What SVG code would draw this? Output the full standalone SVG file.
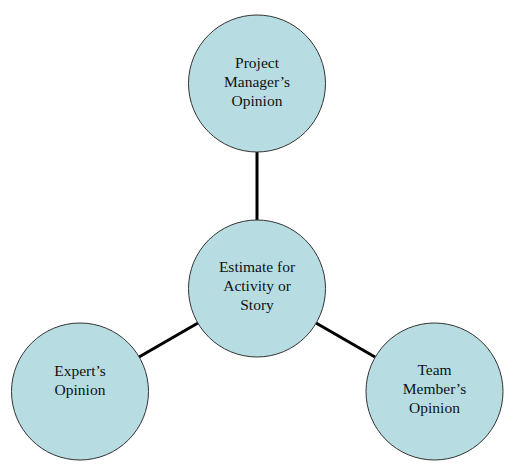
<svg xmlns="http://www.w3.org/2000/svg" width="520" height="468" viewBox="0 0 520 468">
<style>
.node circle{fill:#b7dde3;stroke:#333;stroke-width:1}
.node text{font-family:'Liberation Serif','Times New Roman',serif;font-size:15.5px;fill:#111;text-anchor:middle}
.edge{stroke:#000;stroke-width:3;fill:none}
</style>
<rect width="520" height="468" fill="#fff"/>
<g id="connectors">
<line class="edge" x1="257" y1="151" x2="257" y2="220"/>
<line class="edge" x1="139" y1="357" x2="198" y2="323"/>
<line class="edge" x1="316" y1="323" x2="375" y2="357"/>
</g>
<g id="pm" class="node" font-family="Liberation Serif, serif">
<circle cx="257" cy="83.5" r="68.5"/>
<text x="257" y="68">Project</text>
<text x="257" y="87">Manager’s</text>
<text x="257" y="106">Opinion</text>
</g>
<g id="estimate" class="node" font-family="Liberation Serif, serif">
<circle cx="257" cy="288.5" r="68.5"/>
<text x="257" y="272">Estimate for</text>
<text x="257" y="291">Activity or</text>
<text x="257" y="310">Story</text>
</g>
<g id="expert" class="node" font-family="Liberation Serif, serif">
<circle cx="80" cy="391.5" r="68.5"/>
<text x="80" y="376">Expert’s</text>
<text x="80" y="395">Opinion</text>
</g>
<g id="team" class="node" font-family="Liberation Serif, serif">
<circle cx="434.5" cy="391.5" r="68.5"/>
<text x="434.5" y="375">Team</text>
<text x="434.5" y="394">Member’s</text>
<text x="434.5" y="413">Opinion</text>
</g>
</svg>
